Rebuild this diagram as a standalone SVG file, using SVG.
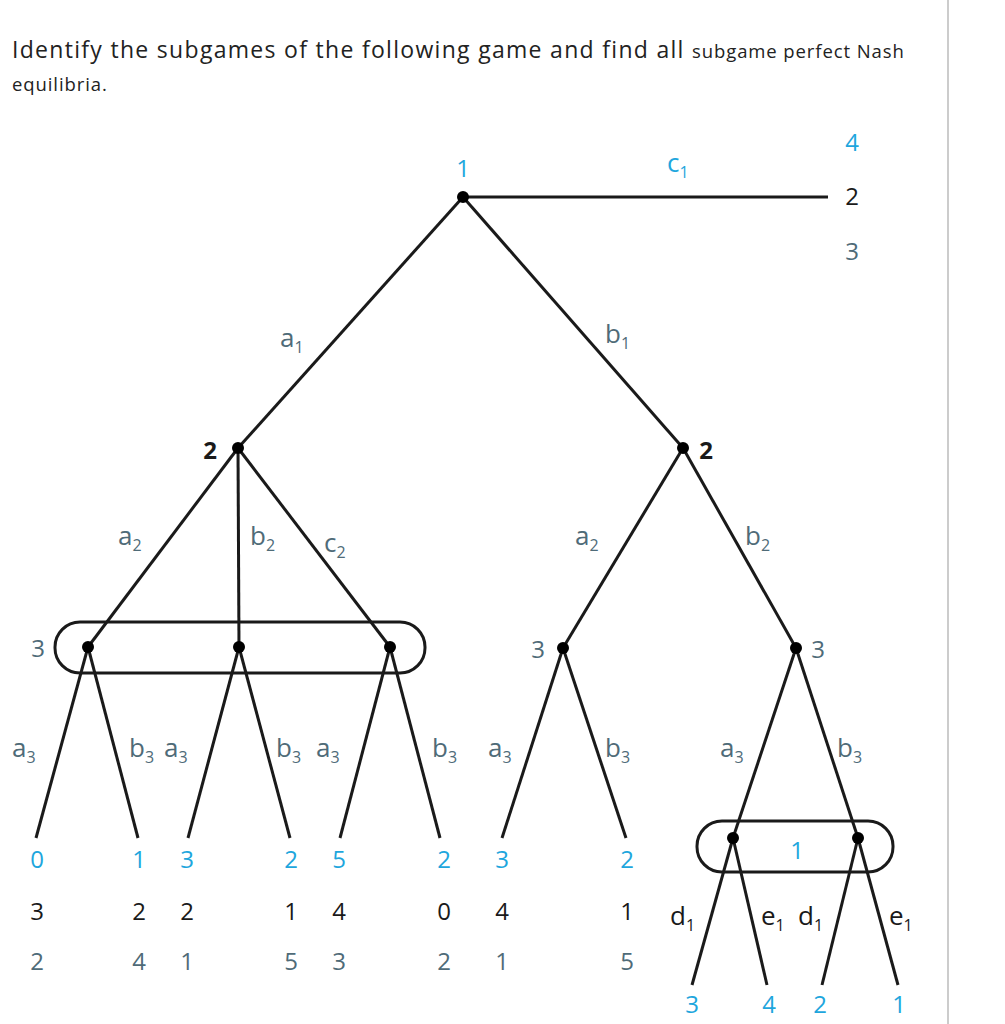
<svg xmlns="http://www.w3.org/2000/svg" width="1005" height="1024" viewBox="0 0 1005 1024">
<style>
text{font-family:"Open Sans","Liberation Sans",sans-serif}
.t{font-size:23px;fill:#222;letter-spacing:1.3px}
.ts{font-size:18.5px;fill:#222;letter-spacing:0.9px}
.e{stroke:#1a1a1a;stroke-width:3;fill:none}
.box{stroke:#1a1a1a;stroke-width:3;fill:none}
.bl{fill:#1ea6dd;font-size:24px;text-anchor:middle}
.bk{fill:#1a1a1a;font-size:24px;text-anchor:middle}
.gr{fill:#4f6b78;font-size:24px;text-anchor:middle}
.lab{font-size:26px}
.sub{font-size:16px}
</style>
<rect width="1005" height="1024" fill="#fff"/>
<line x1="948" y1="0" x2="948" y2="1024" stroke="#ccc" stroke-width="2"/>
<text x="12" y="58" class="t">Identify the subgames of the following game and find all <tspan class="ts">subgame perfect Nash</tspan></text>
<text x="12" y="91" class="ts">equilibria.</text>
<g id="connectors">
<line class="e" x1="463" y1="197" x2="828" y2="197"/>
<line class="e" x1="463" y1="197" x2="238" y2="448"/>
<line class="e" x1="463" y1="197" x2="683" y2="448"/>
<line class="e" x1="238" y1="448" x2="88" y2="647"/>
<line class="e" x1="238" y1="448" x2="239" y2="647"/>
<line class="e" x1="238" y1="448" x2="390" y2="647"/>
<line class="e" x1="683" y1="448" x2="563" y2="648"/>
<line class="e" x1="683" y1="448" x2="796" y2="648"/>
<line class="e" x1="88" y1="647" x2="36" y2="838"/>
<line class="e" x1="88" y1="647" x2="138" y2="838"/>
<line class="e" x1="239" y1="647" x2="188" y2="838"/>
<line class="e" x1="239" y1="647" x2="290" y2="838"/>
<line class="e" x1="390" y1="647" x2="340" y2="838"/>
<line class="e" x1="390" y1="647" x2="440" y2="838"/>
<line class="e" x1="563" y1="648" x2="502" y2="838"/>
<line class="e" x1="563" y1="648" x2="626" y2="838"/>
<line class="e" x1="796" y1="648" x2="733" y2="838"/>
<line class="e" x1="796" y1="648" x2="858" y2="838"/>
<line class="e" x1="733" y1="838" x2="692" y2="985"/>
<line class="e" x1="733" y1="838" x2="767" y2="985"/>
<line class="e" x1="858" y1="838" x2="822" y2="985"/>
<line class="e" x1="858" y1="838" x2="898" y2="985"/>
</g>
<g id="infoset3"><rect class="box" x="55" y="622" width="370" height="51" rx="25"/><text class="gr" x="38" y="657" font-size="25">3</text></g>
<g id="infoset1"><rect class="box" x="697" y="821" width="196" height="51" rx="25"/><text class="bl" x="797" y="859">1</text></g>
<g id="n_root"><circle cx="463" cy="197" r="6"/><text class="bl" x="463" y="177">1</text></g>
<g id="n_2L"><circle cx="238" cy="448" r="6"/><text class="bk" x="210" y="459" font-weight="bold">2</text></g>
<g id="n_2R"><circle cx="683" cy="448" r="6"/><text class="bk" x="706" y="459" font-weight="bold">2</text></g>
<g id="n_3a"><circle cx="88" cy="647" r="6"/></g>
<g id="n_3b"><circle cx="239" cy="647" r="6"/></g>
<g id="n_3c"><circle cx="390" cy="647" r="6"/></g>
<g id="n_3d"><circle cx="563" cy="648" r="6"/><text class="gr" x="538" y="658" font-size="25">3</text></g>
<g id="n_3e"><circle cx="796" cy="648" r="6"/><text class="gr" x="818" y="658" font-size="25">3</text></g>
<g id="n_1a"><circle cx="733" cy="838" r="6"/></g>
<g id="n_1b"><circle cx="858" cy="838" r="6"/></g>
<g id="labels">
<text class="lab" x="280" y="347" fill="#4f6b78">a<tspan class="sub" dy="6">1</tspan></text>
<text class="lab" x="605" y="343" fill="#4f6b78">b<tspan class="sub" dy="6">1</tspan></text>
<text class="lab" x="667" y="172" fill="#1ea6dd">c<tspan class="sub" dy="6">1</tspan></text>
<text class="lab" x="118" y="545" fill="#4f6b78">a<tspan class="sub" dy="6">2</tspan></text>
<text class="lab" x="250" y="545" fill="#4f6b78">b<tspan class="sub" dy="6">2</tspan></text>
<text class="lab" x="324" y="552" fill="#4f6b78">c<tspan class="sub" dy="6">2</tspan></text>
<text class="lab" x="575" y="545" fill="#4f6b78">a<tspan class="sub" dy="6">2</tspan></text>
<text class="lab" x="745" y="545" fill="#4f6b78">b<tspan class="sub" dy="6">2</tspan></text>
<g fill="#4f6b78">
<text class="lab" x="12" y="757">a<tspan class="sub" dy="6">3</tspan></text>
<text class="lab" x="129" y="757">b<tspan class="sub" dy="6">3</tspan></text>
<text class="lab" x="164" y="757">a<tspan class="sub" dy="6">3</tspan></text>
<text class="lab" x="276" y="757">b<tspan class="sub" dy="6">3</tspan></text>
<text class="lab" x="316" y="757">a<tspan class="sub" dy="6">3</tspan></text>
<text class="lab" x="432" y="757">b<tspan class="sub" dy="6">3</tspan></text>
<text class="lab" x="488" y="757">a<tspan class="sub" dy="6">3</tspan></text>
<text class="lab" x="605" y="757">b<tspan class="sub" dy="6">3</tspan></text>
<text class="lab" x="720" y="757">a<tspan class="sub" dy="6">3</tspan></text>
<text class="lab" x="837" y="757">b<tspan class="sub" dy="6">3</tspan></text>
</g>
<g fill="#1a1a1a">
<text class="lab" x="670" y="925">d<tspan class="sub" dy="6">1</tspan></text>
<text class="lab" x="761" y="925">e<tspan class="sub" dy="6">1</tspan></text>
<text class="lab" x="798" y="925">d<tspan class="sub" dy="6">1</tspan></text>
<text class="lab" x="889" y="925">e<tspan class="sub" dy="6">1</tspan></text>
</g>
</g>
<g id="payoffs">
<text class="bl" x="852" y="151">4</text><text class="bk" x="852" y="205">2</text><text class="gr" x="852" y="260">3</text>
<text class="bl" x="37" y="868">0</text><text class="bk" x="37" y="920">3</text><text class="gr" x="37" y="970">2</text>
<text class="bl" x="139" y="868">1</text><text class="bk" x="139" y="920">2</text><text class="gr" x="139" y="970">4</text>
<text class="bl" x="187" y="868">3</text><text class="bk" x="187" y="920">2</text><text class="gr" x="187" y="970">1</text>
<text class="bl" x="291" y="868">2</text><text class="bk" x="291" y="920">1</text><text class="gr" x="291" y="970">5</text>
<text class="bl" x="339" y="868">5</text><text class="bk" x="339" y="920">4</text><text class="gr" x="339" y="970">3</text>
<text class="bl" x="444" y="868">2</text><text class="bk" x="444" y="920">0</text><text class="gr" x="444" y="970">2</text>
<text class="bl" x="502" y="868">3</text><text class="bk" x="502" y="920">4</text><text class="gr" x="502" y="970">1</text>
<text class="bl" x="627" y="868">2</text><text class="bk" x="627" y="920">1</text><text class="gr" x="627" y="970">5</text>
<text class="bl" x="692" y="1013">3</text><text class="bl" x="769" y="1013">4</text><text class="bl" x="820" y="1013">2</text><text class="bl" x="899" y="1013">1</text>
</g>
</svg>
